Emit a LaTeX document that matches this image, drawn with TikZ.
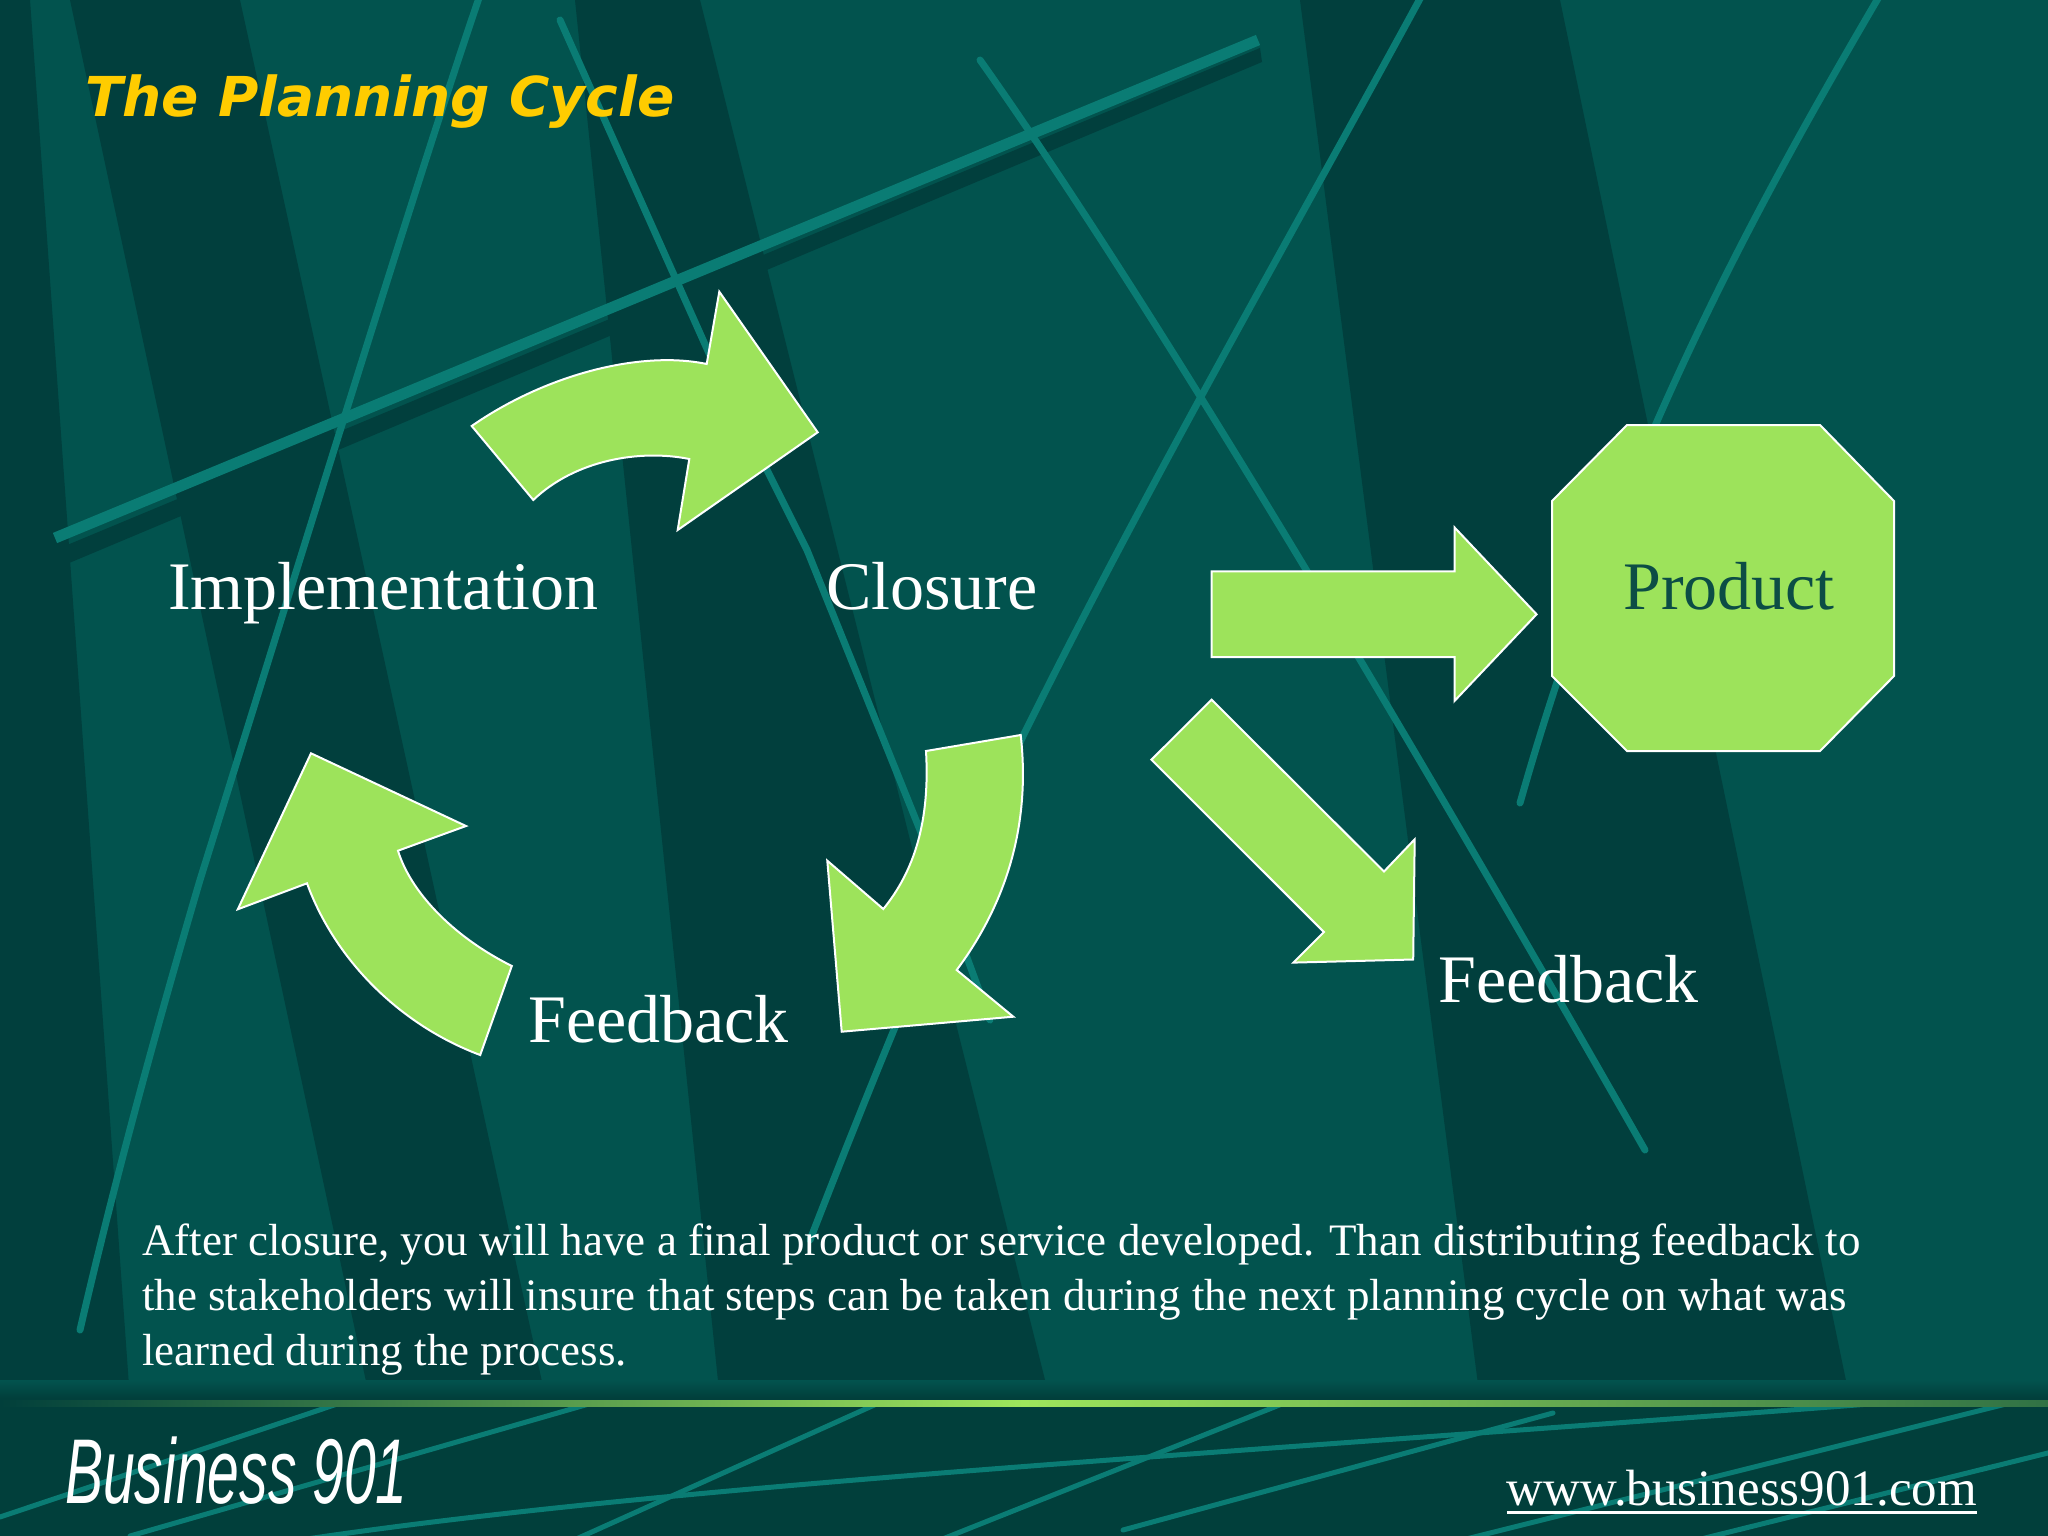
\documentclass[tikz,border=0pt]{standalone}
\usepackage{fontspec}
\setmainfont{Liberation Serif}
\newfontfamily\titlefont{DejaVu Sans}
\newfontfamily\scriptfnt{Liberation Sans}
\usetikzlibrary{shapes.geometric}
\definecolor{bgbase}{HTML}{02534E}
\definecolor{bgdark}{HTML}{013F3D}
\definecolor{tealline}{HTML}{0A7C74}
\definecolor{footdark}{HTML}{013F3B}
\definecolor{arrowgreen}{HTML}{9DE35B}
\definecolor{titleyellow}{HTML}{FFCC00}
\definecolor{prodtext}{HTML}{0C4D45}
\definecolor{barbright}{HTML}{9EE65C}
\tikzset{
  band/.style={fill=bgdark},
  streak/.style={draw=tealline, line width=7pt, line cap=round},
  thinstreak/.style={draw=tealline, line width=5pt, line cap=round},
  blockarrow/.style={fill=arrowgreen, draw=white, line width=2pt, line join=miter},
  label/.style={text=white, font=\fontsize{68}{80}\selectfont, inner sep=0pt},
  bodytext/.style={anchor=base west, inner sep=0pt, text=white, font=\fontsize{45}{55}\selectfont},
}
\begin{document}
\begin{tikzpicture}[x=1pt,y=-1pt]
\useasboundingbox (0,0) rectangle (2048,1536);
% ---------- background ----------
\fill[bgbase] (0,0) rectangle (2048,1536);
\fill[band] (0,0) -- (30,0) -- (130,1400) -- (0,1400) -- cycle;
\fill[band] (70,0) -- (240,0) -- (546,1400) -- (370,1400) -- cycle;
\fill[band] (575,0) -- (700,0) -- (1050,1400) -- (720,1400) -- cycle;
\fill[band] (1300,0) -- (1560,0) -- (1850,1400) -- (1480,1400) -- cycle;
% long thick streak with shadow
\fill[bgdark] (60,548) -- (1260,48) -- (1262,62) -- (62,566) -- cycle;
\draw[draw=tealline, line width=11pt] (55,538) -- (1258,40);
% other streaks
\draw[streak] (480,-5) .. controls (420,170) and (300,560) .. (200,880) .. controls (150,1050) and (110,1200) .. (80,1330);
\draw[streak] (560,20) -- (712,360) -- (807,550) -- (920,830) -- (990,1020);
\draw[streak] (1422,-5) .. controls (1300,220) and (1150,480) .. (1024,734) .. controls (950,890) and (880,1060) .. (810,1240);
\draw[streak] (980,60) .. controls (1150,300) and (1400,720) .. (1645,1150);
\draw[streak] (1880,-5) .. controls (1760,200) and (1620,450) .. (1520,803);
% footer
\fill[footdark] (0,1392) rectangle (2048,1536);
\shade[top color=bgbase, bottom color=footdark] (0,1380) rectangle (2048,1398);
\begin{scope}
\clip (0,1404) rectangle (2048,1536);
\draw[thinstreak] (0,1517) -- (379,1390);
\draw[thinstreak] (130,1536) -- (627,1393);
\draw[thinstreak] (300,1540) .. controls (700,1480) and (1300,1450) .. (2048,1390);
\draw[thinstreak] (574,1540) -- (901,1393);
\draw[thinstreak] (940,1540) -- (1292,1400);
\draw[thinstreak] (1123,1530) -- (1553,1413);
\draw[thinstreak] (1462,1540) -- (2010,1403);
\draw[thinstreak] (1697,1540) -- (2060,1450);
\end{scope}
\shade[left color=footdark, right color=footdark!70!barbright, middle color=barbright] (0,1400) rectangle (2048,1406);
% ---------- title ----------
\node[anchor=base west, inner sep=0pt, text=titleyellow, font=\titlefont\bfseries\itshape\fontsize{55}{60}\selectfont] (title) at (85,117) {The Planning Cycle};
% ---------- arrows ----------
\path[blockarrow] (471.7,426) .. controls (545,375) and (640,350) .. (706.7,364) -- (719.3,291.7) -- (817.7,432.3) -- (677.7,530) -- (689.3,459) .. controls (640,449) and (575,460) .. (533.3,500) -- cycle;
\path[blockarrow] (1020.7,735) .. controls (1028,800) and (1020,885) .. (956.7,970) -- (1013.3,1016.7) -- (841.7,1031.7) -- (827.3,860.7) -- (883.3,909) .. controls (915,870) and (930,820) .. (926,751) -- cycle;
\path[blockarrow] (311,753.3) -- (466,826) -- (398,850.7) .. controls (410,890) and (450,935) .. (511.8,966) -- (480.2,1055) .. controls (400,1025) and (335,960) .. (307,883.3) -- (237.8,909.3) -- cycle;
\path[blockarrow] (1211.6,571.4) -- (1454.5,571.4) -- (1454.5,527.4) -- (1536.6,614.3) -- (1454.5,701) -- (1454.5,657) -- (1211.6,657) -- cycle;
\path[blockarrow] (1211.6,699.7) -- (1384,871.5) -- (1414.7,839.3) -- (1413.2,959.5) -- (1293.3,962.6) -- (1323.9,932) -- (1151.4,759.7) -- cycle;
% octagon
\path[blockarrow] (1627,425) -- (1820,425) -- (1894,501) -- (1894,676) -- (1820,751) -- (1627,751) -- (1552,676) -- (1552,501) -- cycle;
% ---------- labels ----------
\node[label, anchor=base west] (impl) at (168,609) {Implementation};
\node[label, anchor=base west] (clos) at (826,609) {Closure};
\node[label, anchor=base west] (fb1) at (528,1042) {Feedback};
\node[label, anchor=base west] (fb2) at (1438,1002) {Feedback};
\node[label, anchor=base, text=prodtext] (prod) at (1729,609) {Product};
% ---------- body ----------
\node[bodytext] (body1) at (142,1255) {After closure, you will have a final product or service developed. Than distributing feedback to};
\node[bodytext] (body2) at (142,1310) {the stakeholders will insure that steps can be taken during the next planning cycle on what was};
\node[bodytext] (body3) at (142,1365) {learned during the process.};
% ---------- footer text ----------
\node[anchor=base west, inner sep=0pt, text=white, xscale=0.62, transform shape, font=\scriptfnt\itshape\fontsize{92}{96}\selectfont] (brand) at (65,1503) {Business 901};
\node[anchor=base east, inner sep=0pt, text=white, font=\fontsize{51}{56}\selectfont] (url) at (1977,1505) {www.business901.com};
\draw[white, line width=3pt] (url.base west) ++(0,7) -- ([yshift=-7pt]url.base east);
\end{tikzpicture}
\end{document}
